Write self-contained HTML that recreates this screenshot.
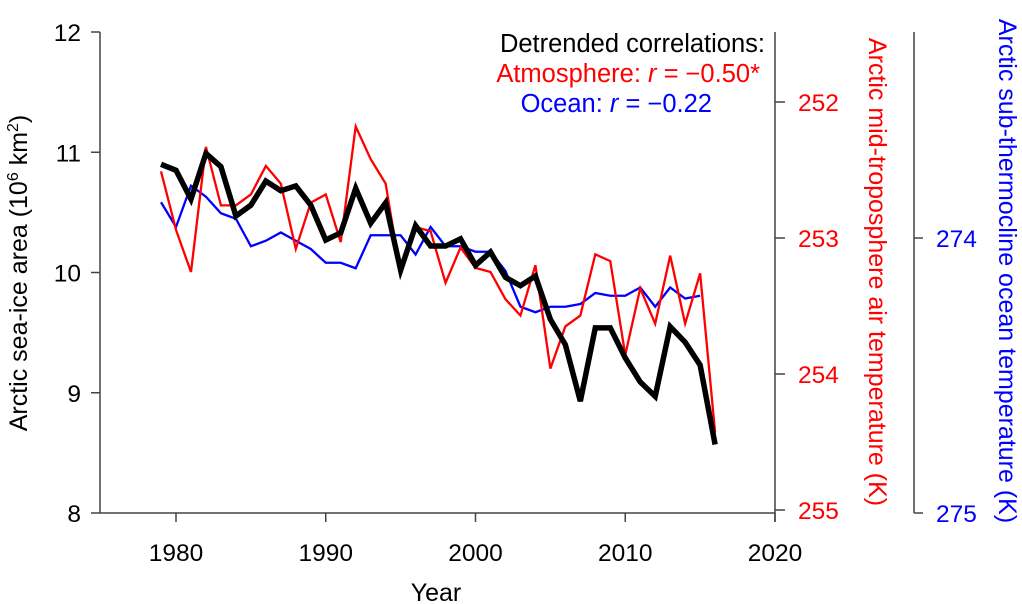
<!DOCTYPE html>
<html><head><meta charset="utf-8"><style>
html,body{margin:0;padding:0;background:#fff;}
svg{display:block;font-family:"Liberation Sans",Arial,sans-serif;}
</style></head><body>
<svg id="chart" width="1022" height="604" viewBox="0 0 1022 604" xmlns="http://www.w3.org/2000/svg">
<g id="axes"></g>
<g id="series"></g>
<text transform="translate(27,273) rotate(-90)" text-anchor="middle" font-size="25" fill="#000">Arctic sea-ice area (10<tspan font-size="16" dy="-9">6</tspan><tspan dy="9"> km</tspan><tspan font-size="16" dy="-9">2</tspan><tspan dy="9">)</tspan></text>
<text transform="translate(869,272) rotate(90)" text-anchor="middle" font-size="25" fill="#ff0000">Arctic mid-troposphere air temperature (K)</text>
<text transform="translate(999,271) rotate(90)" text-anchor="middle" font-size="25" fill="#0000ff">Arctic sub-thermocline ocean temperature (K)</text>
<text x="436" y="601" text-anchor="middle" font-size="25" fill="#000">Year</text>
<g font-size="25.5" text-anchor="end">
<text x="765" y="52" fill="#000">Detrended correlations:</text>
<text x="760" y="82" fill="#ff0000">Atmosphere: <tspan font-style="italic">r</tspan> = −0.50*</text>
<text x="712" y="112" fill="#0000ff">Ocean: <tspan font-style="italic">r</tspan> = −0.22</text>
</g>
</svg>
<script>
const years = [1979,1980,1981,1982,1983,1984,1985,1986,1987,1988,1989,1990,1991,1992,1993,1994,1995,1996,1997,1998,1999,2000,2001,2002,2003,2004,2005,2006,2007,2008,2009,2010,2011,2012,2013,2014,2015,2016];
const seaIce = [10.90,10.85,10.61,10.99,10.88,10.47,10.56,10.76,10.68,10.72,10.56,10.27,10.33,10.70,10.41,10.58,10.02,10.39,10.22,10.22,10.28,10.06,10.17,9.96,9.89,9.97,9.61,9.40,8.93,9.54,9.54,9.29,9.09,8.97,9.55,9.42,9.23,8.57];
const airTemp = [252.51,252.94,253.25,252.33,252.76,252.76,252.68,252.47,252.60,253.08,252.74,252.68,253.03,252.18,252.42,252.60,253.27,252.92,252.95,253.33,253.07,253.22,253.25,253.45,253.57,253.20,253.96,253.65,253.57,253.12,253.17,253.86,253.37,253.63,253.13,253.63,253.26,254.43];
const oceanYears = years.slice(0,37);
const oceanTemp = [273.87,273.96,273.81,273.85,273.91,273.93,274.03,274.01,273.98,274.01,274.04,274.09,274.09,274.11,273.99,273.99,273.99,274.06,273.96,274.03,274.03,274.05,274.05,274.12,274.25,274.27,274.25,274.25,274.24,274.20,274.21,274.21,274.18,274.25,274.18,274.22,274.21];
const xTicks = [1980,1990,2000,2010,2020];
const leftTicks = [8,9,10,11,12];
const airTicks = [252,253,254,255];
const oceanTicks = [274,275];

const NS = "http://www.w3.org/2000/svg";
const X0=100, X1=775, YT=32, YB=513;
const xs = y => 176 + (y-1980)*(775-176)/40;
const yl = v => YB - (v-8)*(YB-YT)/4;
const ya = v => 102 + (v-252)*136;
const yo = v => 238 + (v-274)*275;
function mk(tag, attrs, parent){const e=document.createElementNS(NS,tag);for(const k in attrs)e.setAttribute(k,attrs[k]);parent.appendChild(e);return e;}
const axes=document.getElementById('axes');
const stroke='#444';
let e;
e=mk('line',{x1:X0,y1:YT,x2:X0,y2:YB,stroke:stroke,'stroke-width':1.5},axes);


e=mk('line',{x1:X0,y1:YB,x2:X1,y2:YB,stroke:stroke,'stroke-width':1.5},axes);


e=mk('line',{x1:X1,y1:YT,x2:X1,y2:YB+9,stroke:stroke,'stroke-width':1.5},axes);


e=mk('line',{x1:914,y1:YT,x2:914,y2:YB,stroke:stroke,'stroke-width':1.5},axes);


leftTicks.forEach(v=>{
 mk('line',{x1:X0-9,y1:yl(v),x2:X0,y2:yl(v),stroke:stroke,'stroke-width':1.5},axes);
 const t=mk('text',{x:X0-19,y:yl(v)+9,'text-anchor':'end','font-size':24.5,fill:'#000'},axes);
 t.textContent=v;
 
 
});
xTicks.forEach(v=>{
 mk('line',{x1:xs(v),y1:YB,x2:xs(v),y2:YB+9,stroke:stroke,'stroke-width':1.5},axes);
 const t=mk('text',{x:xs(v),y:YB+48,'text-anchor':'middle','font-size':24.5,fill:'#000'},axes);
 t.textContent=v;
 
 
});
airTicks.forEach(v=>{
 mk('line',{x1:X1,y1:ya(v),x2:X1+10,y2:ya(v),stroke:stroke,'stroke-width':1.5},axes);
 const t=mk('text',{x:798,y:ya(v)+9,'text-anchor':'start','font-size':24.5,fill:'#ff0000'},axes);
 t.textContent=v;
 
 
});
oceanTicks.forEach(v=>{
 mk('line',{x1:914,y1:yo(v),x2:923,y2:yo(v),stroke:stroke,'stroke-width':1.5},axes);
 const t=mk('text',{x:936,y:yo(v)+9,'text-anchor':'start','font-size':24.5,fill:'#0000ff'},axes);
 t.textContent=v;
 
 
});
const series=document.getElementById('series');
const ptsO=oceanYears.map((y,i)=>xs(y)+','+yo(oceanTemp[i])).join(' ');
const pO=mk('polyline',{points:ptsO,fill:'none',stroke:'#0000ff','stroke-width':2.3},series);


const ptsA=years.map((y,i)=>xs(y)+','+ya(airTemp[i])).join(' ');
const pA=mk('polyline',{points:ptsA,fill:'none',stroke:'#ff0000','stroke-width':2.3},series);


const ptsS=years.map((y,i)=>xs(y)+','+yl(seaIce[i])).join(' ');
const pS=mk('polyline',{points:ptsS,fill:'none',stroke:'#000','stroke-width':5.5},series);


</script>
</body></html>
